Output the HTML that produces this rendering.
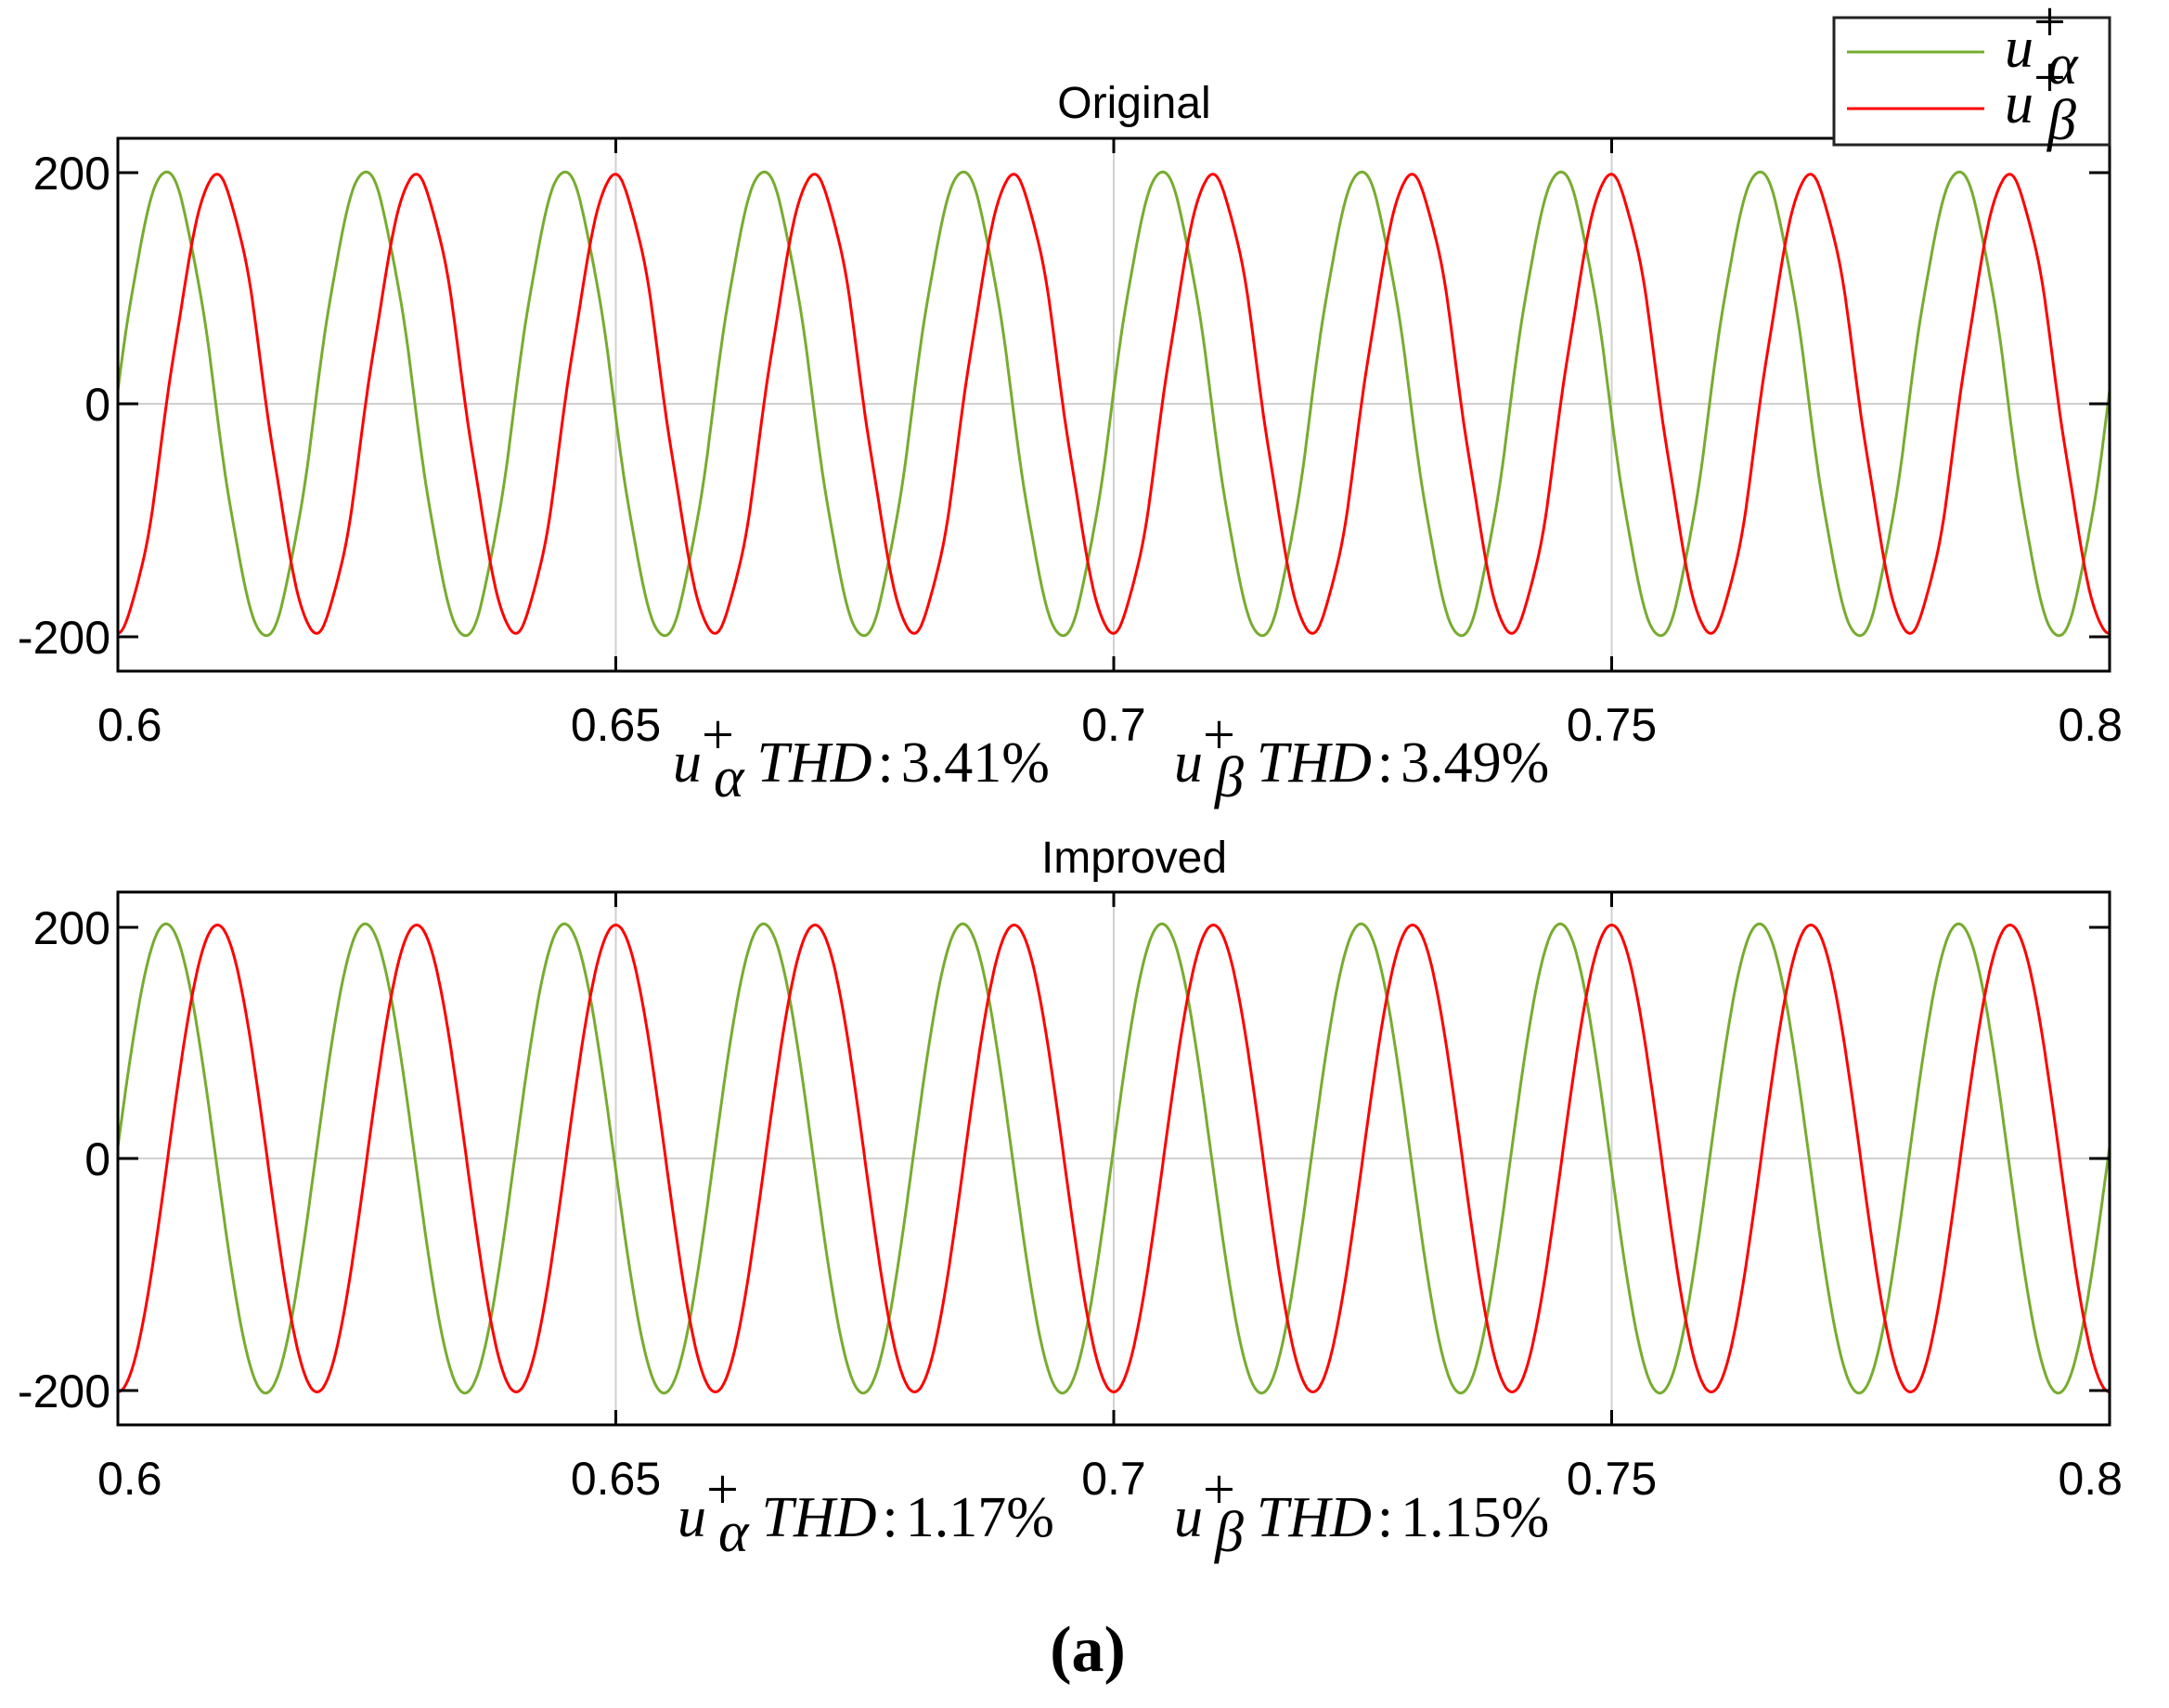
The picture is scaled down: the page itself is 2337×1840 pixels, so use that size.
<!DOCTYPE html>
<html><head><meta charset="utf-8"><style>
body{margin:0;background:#fff}
svg{display:block}
.tk{font-family:"Liberation Sans",Arial,sans-serif;font-size:50px;fill:#000}
.tt{font-family:"Liberation Sans",Arial,sans-serif;font-size:48px;fill:#000}
.m{font-family:"Liberation Serif","Times New Roman",serif;font-style:italic;font-size:62px;fill:#000}
.mr{font-family:"Liberation Serif","Times New Roman",serif;font-size:62px;fill:#000}
</style></head><body>
<svg id="s" width="2337" height="1840" viewBox="0 0 2337 1840" xmlns="http://www.w3.org/2000/svg">
<g id="p1"></g><g id="p2"></g>
<text class="tt" x="1222" y="127" text-anchor="middle">Original</text>
<text class="tt" x="1222" y="940" text-anchor="middle">Improved</text>
<text y="842"><tspan class="m" x="725">u</tspan><tspan class="mr" font-size="36" dy="-30">+</tspan><tspan class="m" font-size="38" dx="-22" dy="46">α</tspan><tspan class="m" dx="14" dy="-16">THD</tspan><tspan class="mr" dx="6">:</tspan><tspan class="mr" dx="8">3.41%</tspan></text>
<text y="842"><tspan class="m" x="1265">u</tspan><tspan class="mr" font-size="36" dy="-30">+</tspan><tspan class="m" font-size="38" dx="-22" dy="46">β</tspan><tspan class="m" dx="14" dy="-16">THD</tspan><tspan class="mr" dx="6">:</tspan><tspan class="mr" dx="8">3.49%</tspan></text>
<text y="1655"><tspan class="m" x="730">u</tspan><tspan class="mr" font-size="36" dy="-30">+</tspan><tspan class="m" font-size="38" dx="-22" dy="46">α</tspan><tspan class="m" dx="14" dy="-16">THD</tspan><tspan class="mr" dx="6">:</tspan><tspan class="mr" dx="8">1.17%</tspan></text>
<text y="1655"><tspan class="m" x="1265">u</tspan><tspan class="mr" font-size="36" dy="-30">+</tspan><tspan class="m" font-size="38" dx="-22" dy="46">β</tspan><tspan class="m" dx="14" dy="-16">THD</tspan><tspan class="mr" dx="6">:</tspan><tspan class="mr" dx="8">1.15%</tspan></text>
<text x="1172" y="1800" text-anchor="middle" font-family="Liberation Serif,serif" font-size="70" font-weight="bold">(a)</text>
<rect x="1976" y="19" width="297" height="137" fill="#fff" stroke="#222" stroke-width="3"/>
<line x1="1990" y1="56" x2="2138" y2="56" stroke="#77ac30" stroke-width="3"/>
<line x1="1990" y1="117" x2="2138" y2="117" stroke="#ff0000" stroke-width="3"/>
<text y="72"><tspan class="m" x="2160" font-size="56">u</tspan><tspan class="mr" font-size="32" dy="-28">+</tspan><tspan class="m" font-size="34" dx="-20" dy="46">α</tspan></text>
<text y="132"><tspan class="m" x="2160" font-size="56">u</tspan><tspan class="mr" font-size="32" dy="-28">+</tspan><tspan class="m" font-size="34" dx="-20" dy="46">β</tspan></text>
</svg>
<script>
const NS="http://www.w3.org/2000/svg";
const L=127,R=2273;
function el(g,t,a){const e=document.createElementNS(NS,t);for(const k in a)e.setAttribute(k,a[k]);g.appendChild(e);return e;}
function X(t){return L+(t-0.6)/0.2*(R-L);}
function plot(id,top,bot,y200,y0,ym200,orig){
 const g=document.getElementById(id);
 const Y=v=>y0-(v/200)*(y0-y200);
 [0.65,0.7,0.75].forEach(t=>el(g,'line',{x1:X(t),x2:X(t),y1:top,y2:bot,stroke:'#d0d0d0','stroke-width':2}));
 el(g,'line',{x1:L,x2:R,y1:y0,y2:y0,stroke:'#d0d0d0','stroke-width':2});
 function curve(f,col){let d='';for(let i=0;i<=2400;i++){const t=0.6+0.2*i/2400;d+=(i?'L':'M')+X(t).toFixed(1)+' '+Y(f(t)).toFixed(1);}el(g,'path',{d:d,fill:'none',stroke:col,'stroke-width':3});}
 const w=2*Math.PI*50;
 if(orig){
  curve(t=>{const th=w*(t-0.6)+0.05;return 200*(Math.sin(th)+0.01*Math.sin(5*th)+0.008*Math.sin(7*th+0.4));},'#77ac30');
  curve(t=>{const th=w*(t-0.6)-Math.PI/2+0.02;return 197*(Math.sin(th)+0.012*Math.sin(5*th+1.2)+0.01*Math.sin(7*th+2.0));},'#ff0000');
 }else{
  curve(t=>203*Math.sin(w*(t-0.6)+0.05),'#77ac30');
  curve(t=>202*Math.sin(w*(t-0.6)-Math.PI/2),'#ff0000');
 }
 el(g,'rect',{x:L,y:top,width:R-L,height:bot-top,fill:'none',stroke:'#000','stroke-width':3});
 [0.65,0.7,0.75].forEach(t=>{el(g,'line',{x1:X(t),x2:X(t),y1:top,y2:top+16,stroke:'#000','stroke-width':3});el(g,'line',{x1:X(t),x2:X(t),y1:bot,y2:bot-16,stroke:'#000','stroke-width':3});});
 [y200,y0,ym200].forEach(y=>{el(g,'line',{x1:L,x2:L+22,y1:y,y2:y,stroke:'#000','stroke-width':3});el(g,'line',{x1:R,x2:R-22,y1:y,y2:y,stroke:'#000','stroke-width':3});});
 [['200',y200],['0',y0],['-200',ym200]].forEach(([s,y])=>{const e=el(g,'text',{x:L-8,y:y+18,'text-anchor':'end',class:'tk'});e.textContent=s;});
 [['0.6',0.6,'start',-22],['0.65',0.65,'middle',0],['0.7',0.7,'middle',0],['0.75',0.75,'middle',0],['0.8',0.8,'end',14]].forEach(([s,t,a,dx])=>{const e=el(g,'text',{x:X(t)+dx,y:bot+75,'text-anchor':a,class:'tk'});e.textContent=s;});
}
plot('p1',149,723,186,435,686,true);
plot('p2',961,1535,999,1248,1498,false);
</script>
</body></html>
